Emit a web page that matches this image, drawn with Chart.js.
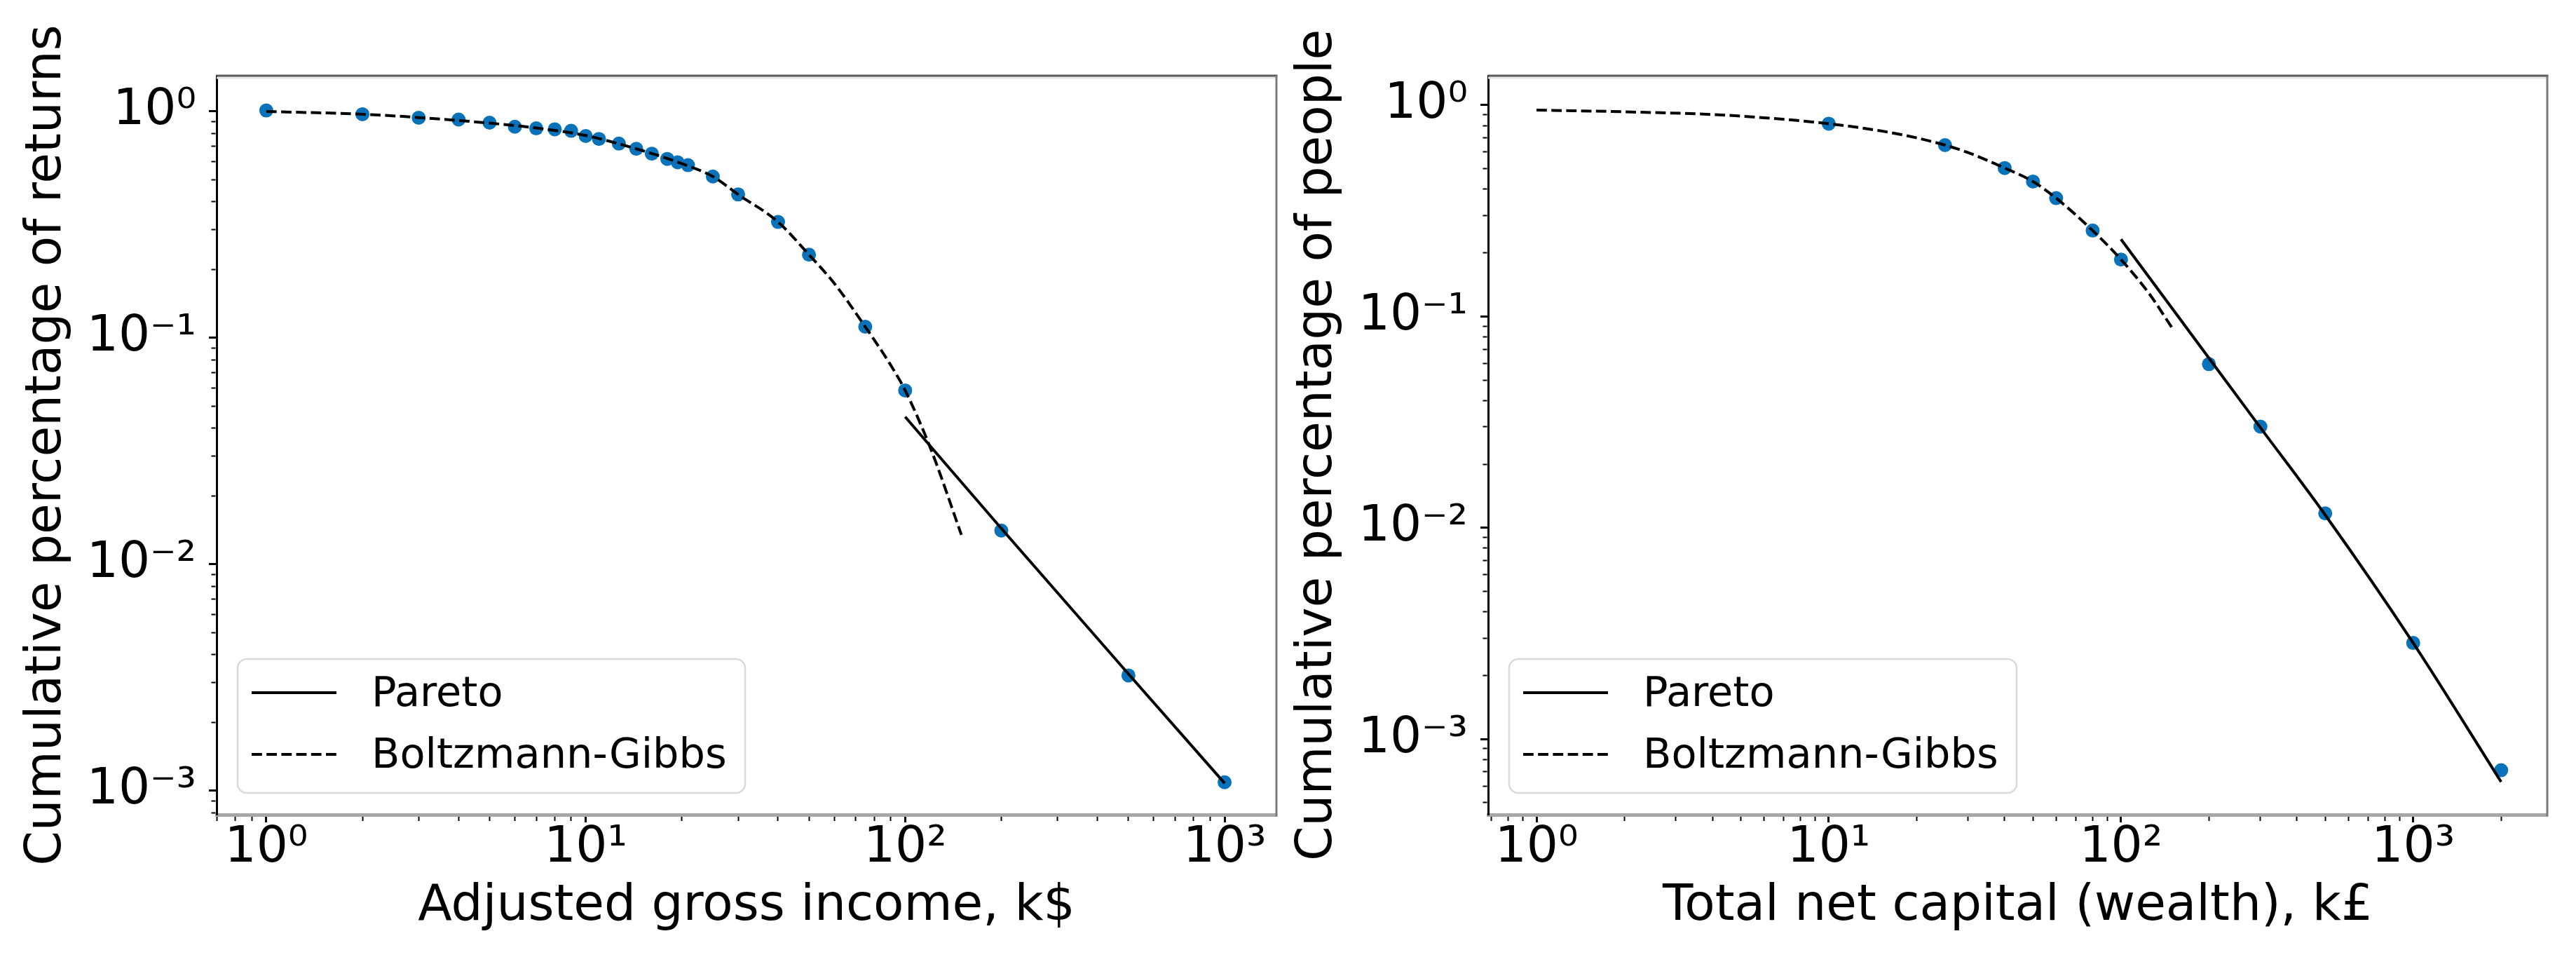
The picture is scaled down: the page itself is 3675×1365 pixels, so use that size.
<!DOCTYPE html>
<html>
<head>
<meta charset="utf-8">
<script src="https://cdn.jsdelivr.net/npm/chart.js@4.4.1/dist/chart.umd.min.js"></script>
<style>
  html, body { margin:0; padding:0; background:#fff; width:3675px; height:1365px; overflow:hidden; }
  #w1 { position:absolute; left:0; top:0; width:1840px; height:1365px; }
  #w2 { position:absolute; left:1800px; top:0; width:1875px; height:1365px; }
</style>
</head>
<body>
<div id="w1"><canvas id="c1"></canvas></div>
<div id="w2"><canvas id="c2"></canvas></div>
<script>
// ---------- Data ----------
// Left panel: adjusted gross income (k$) vs cumulative share of returns
const incomeX = [1, 2, 3, 4, 5, 6, 7, 8, 9, 10, 11, 12.7, 14.4, 16.1, 18, 19.4, 20.9, 25, 30, 40, 50, 75, 100, 200, 500, 1000];
const incomeY = [1.01, 0.972, 0.938, 0.921, 0.892, 0.856, 0.842, 0.834, 0.821, 0.779, 0.756, 0.721, 0.684, 0.651, 0.617, 0.596, 0.579, 0.516, 0.430, 0.325, 0.233, 0.112, 0.0586, 0.0141, 0.00323, 0.00109];
const incomeParetoX = [100, 200, 500, 1000];
const incomeParetoY = [0.0448, 0.0144, 0.00328, 0.00108];
const incomeBGX = [1, 2, 3, 5, 7, 10, 15, 20, 25, 30, 40, 50, 60, 75, 90, 100, 120, 150];
const incomeBGY = [1.0, 0.972, 0.94, 0.888, 0.845, 0.783, 0.672, 0.588, 0.516, 0.43, 0.325, 0.233, 0.174, 0.112, 0.076, 0.0586, 0.0326, 0.0135];

// Right panel: total net capital (k£) vs cumulative share of people
const wealthX = [10, 25, 40, 50, 60, 80, 100, 200, 300, 500, 1000, 2000];
const wealthY = [0.817, 0.647, 0.504, 0.435, 0.363, 0.255, 0.186, 0.0595, 0.0301, 0.0117, 0.00285, 0.000712];
const wealthParetoX = [100, 200, 300, 500, 1000, 2000];
const wealthParetoY = [0.232, 0.0635, 0.0298, 0.0115, 0.00285, 0.000627];
const wealthBGX = [1, 2, 4, 6, 10, 15, 20, 25, 30, 40, 50, 60, 80, 100, 125, 150];
const wealthBGY = [0.948, 0.93, 0.903, 0.872, 0.817, 0.756, 0.70, 0.647, 0.596, 0.504, 0.435, 0.363, 0.255, 0.186, 0.128, 0.0878];

// Axis ranges
const incomeXRange = [0.699, 1453];
const incomeYRange = [7.84e-4, 1.438];
const wealthXRange = [0.683, 2876];
const wealthYRange = [4.387e-4, 1.378];

// Tick values and labels
const xMajorTicks = [1, 10, 100, 1000];
const xTickLabels = ['10\u2070', '10\u00B9', '10\u00B2', '10\u00B3'];
const yMajorTicks = [0.001, 0.01, 0.1, 1];
const yTickLabels = ['10\u207B\u00B3', '10\u207B\u00B2', '10\u207B\u00B9', '10\u2070'];

const seriesLabels = ['Pareto', 'Boltzmann-Gibbs'];
const axisTitles = {
  incomeX: 'Adjusted gross income, k$',
  incomeY: 'Cumulative percentage of returns',
  wealthX: 'Total net capital (wealth), k\u00A3',
  wealthY: 'Cumulative percentage of people'
};

// ---------- Helpers ----------
const FONT = '"DejaVu Sans", "Liberation Sans", sans-serif';
Chart.defaults.font.family = FONT;
Chart.defaults.color = '#000';

function pts(xs, ys) { return xs.map((x, i) => ({ x: x, y: ys[i] })); }

function allLogTicks(min, max) {
  const out = [];
  for (let e = Math.floor(Math.log10(min)); e <= Math.ceil(Math.log10(max)); e++) {
    for (let k = 1; k <= 9; k++) {
      const v = Number((k * Math.pow(10, e)).toPrecision(6));
      if (v >= min && v <= max) out.push(v);
    }
  }
  return out;
}
function majorIndex(v, majors) {
  return majors.findIndex(m => Math.abs(Math.log10(m) - Math.log10(v)) < 1e-6);
}

function makeAxis(axis, range, majors, labels, title, titlePad, fitSize) {
  const isX = axis === 'x';
  const isMajor = (v) => majorIndex(v, majors) >= 0;
  return {
    type: 'logarithmic',
    position: isX ? 'bottom' : 'left',
    min: range[0],
    max: range[1],
    afterBuildTicks: (scale) => {
      scale.ticks = allLogTicks(range[0], range[1]).map(v => ({ value: v, major: false }));
    },
    afterFit: (scale) => {
      if (isX) scale.height = fitSize; else scale.width = fitSize;
    },
    ticks: {
      autoSkip: false,
      maxRotation: 0,
      minRotation: 0,
      padding: isX ? 2 : 18,
      color: '#000',
      font: { size: 71, lineHeight: 1 },
      callback: (value) => {
        const i = majorIndex(value, majors);
        return i >= 0 ? labels[i] : '';
      }
    },
    grid: {
      display: true,
      drawOnChartArea: false,
      drawTicks: true,
      tickLength: 11,
      tickColor: '#000',
      tickWidth: (c) => (c.tick && isMajor(c.tick.value)) ? 3 : 2,
      tickBorderDash: (c) => (c.tick && isMajor(c.tick.value)) ? [] : [6, 100],
      tickBorderDashOffset: (c) => (c.tick && isMajor(c.tick.value)) ? 0 : (isX ? 0 : 102.5)
    },
    border: isX ? { display: true, color: '#a6a6a6', width: 5 } : { display: true, color: '#000', width: 3 },
    title: {
      display: true,
      text: title,
      color: '#000',
      font: { size: 71, lineHeight: 1.2 },
      padding: isX ? { top: 0, bottom: titlePad } : { top: titlePad, bottom: 0 }
    }
  };
}

// Frame (top/right spines) + in-axes legend box
const framePlugin = {
  id: 'frameAndLegend',
  afterDatasetsDraw(chart, args, opts) {
    const ctx = chart.ctx;
    const a = chart.chartArea;
    ctx.save();
    // top spine
    ctx.fillStyle = '#e6e6e6';
    ctx.fillRect(a.left, a.top + 1.5, a.right - a.left, 3);
    ctx.strokeStyle = '#5a5a5a';
    ctx.lineWidth = 3;
    ctx.beginPath(); ctx.moveTo(a.left, a.top); ctx.lineTo(a.right + 1.5, a.top); ctx.stroke();
    // right spine
    ctx.strokeStyle = '#7a7a7a';
    ctx.beginPath(); ctx.moveTo(a.right, a.top); ctx.lineTo(a.right, a.bottom + 2.5); ctx.stroke();

    // legend
    const w = opts.w, h = opts.h;
    const x = a.left + opts.dx, y = a.bottom - opts.dy - h;
    const r = 13;
    ctx.beginPath();
    ctx.moveTo(x + r, y);
    ctx.arcTo(x + w, y, x + w, y + h, r);
    ctx.arcTo(x + w, y + h, x, y + h, r);
    ctx.arcTo(x, y + h, x, y, r);
    ctx.arcTo(x, y, x + w, y, r);
    ctx.closePath();
    ctx.fillStyle = 'rgba(255,255,255,0.8)';
    ctx.fill();
    ctx.strokeStyle = '#dadada';
    ctx.lineWidth = 2.5;
    ctx.stroke();

    const rows = [48, 136];
    const items = chart.data.datasets.filter(d => d.inLegend);
    items.forEach((d, i) => {
      const ly = y + rows[i];
      ctx.strokeStyle = d.borderColor;
      ctx.lineWidth = d.borderWidth;
      ctx.setLineDash(d.borderDash || []);
      ctx.lineDashOffset = 0;
      ctx.beginPath(); ctx.moveTo(x + 20, ly); ctx.lineTo(x + 141, ly); ctx.stroke();
      ctx.setLineDash([]);
      ctx.fillStyle = '#000';
      ctx.font = '59px ' + FONT;
      ctx.textAlign = 'left';
      ctx.textBaseline = 'alphabetic';
      ctx.fillText(d.label, x + 191, ly + 19);
    });
    ctx.restore();
  }
};

const DOT = '#0a72b9';
const DASH = [14.8, 6.4];

function makeChart(canvasId, d) {
  return new Chart(document.getElementById(canvasId), {
    type: 'scatter',
    data: {
      datasets: [
        { label: seriesLabels[0], inLegend: true, type: 'line', data: pts(d.parX, d.parY), showLine: true,
          borderColor: '#000', borderWidth: 4, pointRadius: 0, cubicInterpolationMode: 'monotone', fill: false, order: 0 },
        { label: seriesLabels[1], inLegend: true, type: 'line', data: pts(d.bgX, d.bgY), showLine: true,
          borderColor: '#000', borderWidth: 4, borderDash: DASH, pointRadius: 0, cubicInterpolationMode: 'monotone', fill: false, order: 1 },
        { label: 'data', inLegend: false, data: pts(d.x, d.y), backgroundColor: DOT, borderWidth: 0,
          pointRadius: 10, pointHoverRadius: 10, order: 2 }
      ]
    },
    options: {
      responsive: true,
      maintainAspectRatio: false,
      devicePixelRatio: 1,
      animation: false,
      events: [],
      layout: { padding: { left: 0, top: 108, right: d.padRight, bottom: 0 } },
      scales: {
        x: makeAxis('x', d.xRange, xMajorTicks, xTickLabels, d.xTitle, 29, 203),
        y: makeAxis('y', d.yRange, yMajorTicks, yTickLabels, d.yTitle, d.yTitlePad, d.yWidth)
      },
      plugins: {
        legend: { display: false },
        tooltip: { enabled: false },
        frameAndLegend: { dx: 30, dy: 31, w: 724, h: 191 }
      }
    },
    plugins: [framePlugin]
  });
}

makeChart('c1', {
  x: incomeX, y: incomeY, parX: incomeParetoX, parY: incomeParetoY, bgX: incomeBGX, bgY: incomeBGY,
  xRange: incomeXRange, yRange: incomeYRange, xTitle: axisTitles.incomeX, yTitle: axisTitles.incomeY,
  yTitlePad: 24.8, yWidth: 309, padRight: 19
});
makeChart('c2', {
  x: wealthX, y: wealthY, parX: wealthParetoX, parY: wealthParetoY, bgX: wealthBGX, bgY: wealthBGY,
  xRange: wealthXRange, yRange: wealthYRange, xTitle: axisTitles.wealthX, yTitle: axisTitles.wealthY,
  yTitlePad: 37.8, yWidth: 323, padRight: 41
});
</script>
</body>
</html>
